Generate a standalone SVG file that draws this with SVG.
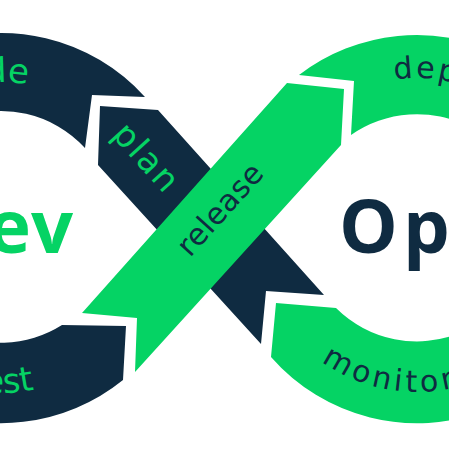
<svg xmlns="http://www.w3.org/2000/svg" width="449" height="449" viewBox="0 0 449 449">
  <style>
    .navy { fill: #0f2b41; }
    .green { fill: #05d364; }
    .lbl { font-family: "DejaVu Sans", "Open Sans", sans-serif; font-weight: 400; }
    .big { font-family: "Open Sans", "DejaVu Sans", sans-serif; font-weight: 700; font-size: 74px; }
    .tg { fill: #05d364; }
    .tn { fill: #0f2b41; }
  </style>
  <defs>
    <path id="pCode" d="M -136.2,178.1 A 146 146 0 0 1 112.8,134.2"/>
    <path id="pTest" d="M -154,284.4 A 165 165 0 0 0 127.4,334.1"/>
    <path id="pDeploy" d="M 302.1,131.6 A 150 150 0 0 1 558,176.7"/>
    <path id="pMonitor" d="M 291.4,333.4 A 164 164 0 0 0 571.1,284.1"/>
  </defs>
  <rect width="449" height="449" fill="#ffffff"/>

  <g id="code">
    <path class="navy" d="M -193,228 A 194 194 0 0 1 145,97 L 92,95 L 85,148 A 114 114 0 0 0 -113,228 Z"/>
    <text class="lbl tg" font-size="34"><textPath href="#pCode" startOffset="205" text-anchor="end">code</textPath></text>
  </g>
  <g id="test">
    <path class="navy" d="M -193,228 A 194 194 0 0 0 123,380 L 126,326 L 62,325 A 114 114 0 0 1 -113,228 Z"/>
    <text class="lbl tg" font-size="34"><textPath href="#pTest" startOffset="235" text-anchor="end">test</textPath></text>
  </g>
  <g id="deploy">
    <path class="green" d="M 299,75 L 354,81 L 351,135 A 115 115 0 0 1 532,228 L 611,228 A 194 194 0 0 0 299,75 Z"/>
    <text class="lbl tn" font-size="30" letter-spacing="2.5"><textPath href="#pDeploy" startOffset="108">deploy</textPath></text>
  </g>
  <g id="monitor">
    <path class="green" d="M 276,303 L 336,308 A 115 115 0 0 0 532,228 L 611,228 A 194 194 0 0 1 271,357 Z"/>
    <text class="lbl tn" font-size="30" letter-spacing="3.8"><textPath href="#pMonitor" startOffset="41">monitor</textPath></text>
  </g>
  <g id="plan">
    <path class="navy" d="M 100,106 L 158,110 L 324,295 L 266,291 L 261,344 L 98,165 Z"/>
    <text class="lbl tg" font-size="34" letter-spacing="2" text-anchor="middle" transform="translate(145,158) rotate(48)" x="1" y="10">plan</text>
  </g>
  <g id="release">
    <path class="green" d="M 82,313 L 137,318 L 135,372 L 341,145 L 344,89 L 287,83 Z"/>
    <text class="lbl tn" font-size="30" letter-spacing="0.5" text-anchor="middle" transform="translate(221,210) rotate(-48)" x="0" y="9">release</text>
  </g>
  <g id="dev">
    <text class="big tg" x="73" y="253" text-anchor="end">Dev</text>
  </g>
  <g id="ops">
    <text class="big tn" x="339" y="253" letter-spacing="5">Ops</text>
  </g>
  <g id="connectors"></g>
</svg>
